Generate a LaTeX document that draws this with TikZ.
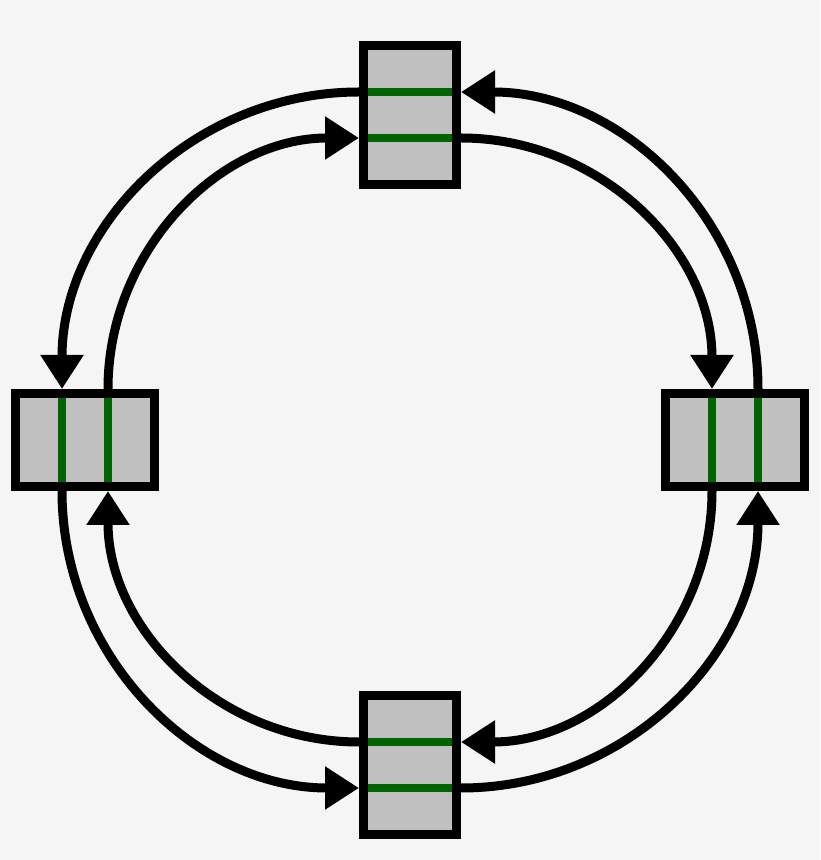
\documentclass[tikz,border=0pt]{standalone}
\usetikzlibrary{arrows.meta}
\definecolor{panel}{HTML}{C0C0C0}
\definecolor{trackgreen}{HTML}{006400}
\definecolor{paper}{HTML}{F5F5F5}
\begin{document}
\begin{tikzpicture}[x=1pt,y=1pt,
  unit/.style={draw=black,line width=9pt,fill=panel,inner sep=0pt},
  vunit/.style={unit,minimum width=93pt,minimum height=139pt},
  hunit/.style={unit,minimum width=139pt,minimum height=93pt},
  track/.style={trackgreen,line width=8pt,shorten <=9pt,shorten >=9pt},
  link/.style={line width=9pt,-{Triangle[length=34pt,width=41pt]}}]

\fill[paper] (0,0) rectangle (820,860);
\useasboundingbox (0,0) rectangle (820,860);

\node[vunit] (top) at (410,745) {};
\node[vunit] (bottom) at (410,95) {};
\node[hunit] (left) at (85,420) {};
\node[hunit] (right) at (735,420) {};

\draw[track] ([yshift=23pt]top.west) -- ([yshift=23pt]top.east);
\draw[track] ([yshift=-23pt]top.west) -- ([yshift=-23pt]top.east);
\draw[track] ([yshift=23pt]bottom.west) -- ([yshift=23pt]bottom.east);
\draw[track] ([yshift=-23pt]bottom.west) -- ([yshift=-23pt]bottom.east);
\draw[track] ([xshift=-23pt]left.north) -- ([xshift=-23pt]left.south);
\draw[track] ([xshift=23pt]left.north) -- ([xshift=23pt]left.south);
\draw[track] ([xshift=-23pt]right.north) -- ([xshift=-23pt]right.south);
\draw[track] ([xshift=23pt]right.north) -- ([xshift=23pt]right.south);

\draw[link] ([yshift=23pt]top.west) to[out=180,in=90] ([xshift=-23pt]left.north);
\draw[link] ([xshift=23pt]left.north) to[out=90,in=180] ([yshift=-23pt]top.west);
\draw[link] ([xshift=23pt]right.north) to[out=90,in=0] ([yshift=23pt]top.east);
\draw[link] ([yshift=-23pt]top.east) to[out=0,in=90] ([xshift=-23pt]right.north);
\draw[link] ([yshift=-23pt]bottom.east) to[out=0,in=-90] ([xshift=23pt]right.south);
\draw[link] ([xshift=-23pt]right.south) to[out=-90,in=0] ([yshift=23pt]bottom.east);
\draw[link] ([yshift=23pt]bottom.west) to[out=180,in=-90] ([xshift=23pt]left.south);
\draw[link] ([xshift=-23pt]left.south) to[out=-90,in=180] ([yshift=-23pt]bottom.west);

\end{tikzpicture}
\end{document}
